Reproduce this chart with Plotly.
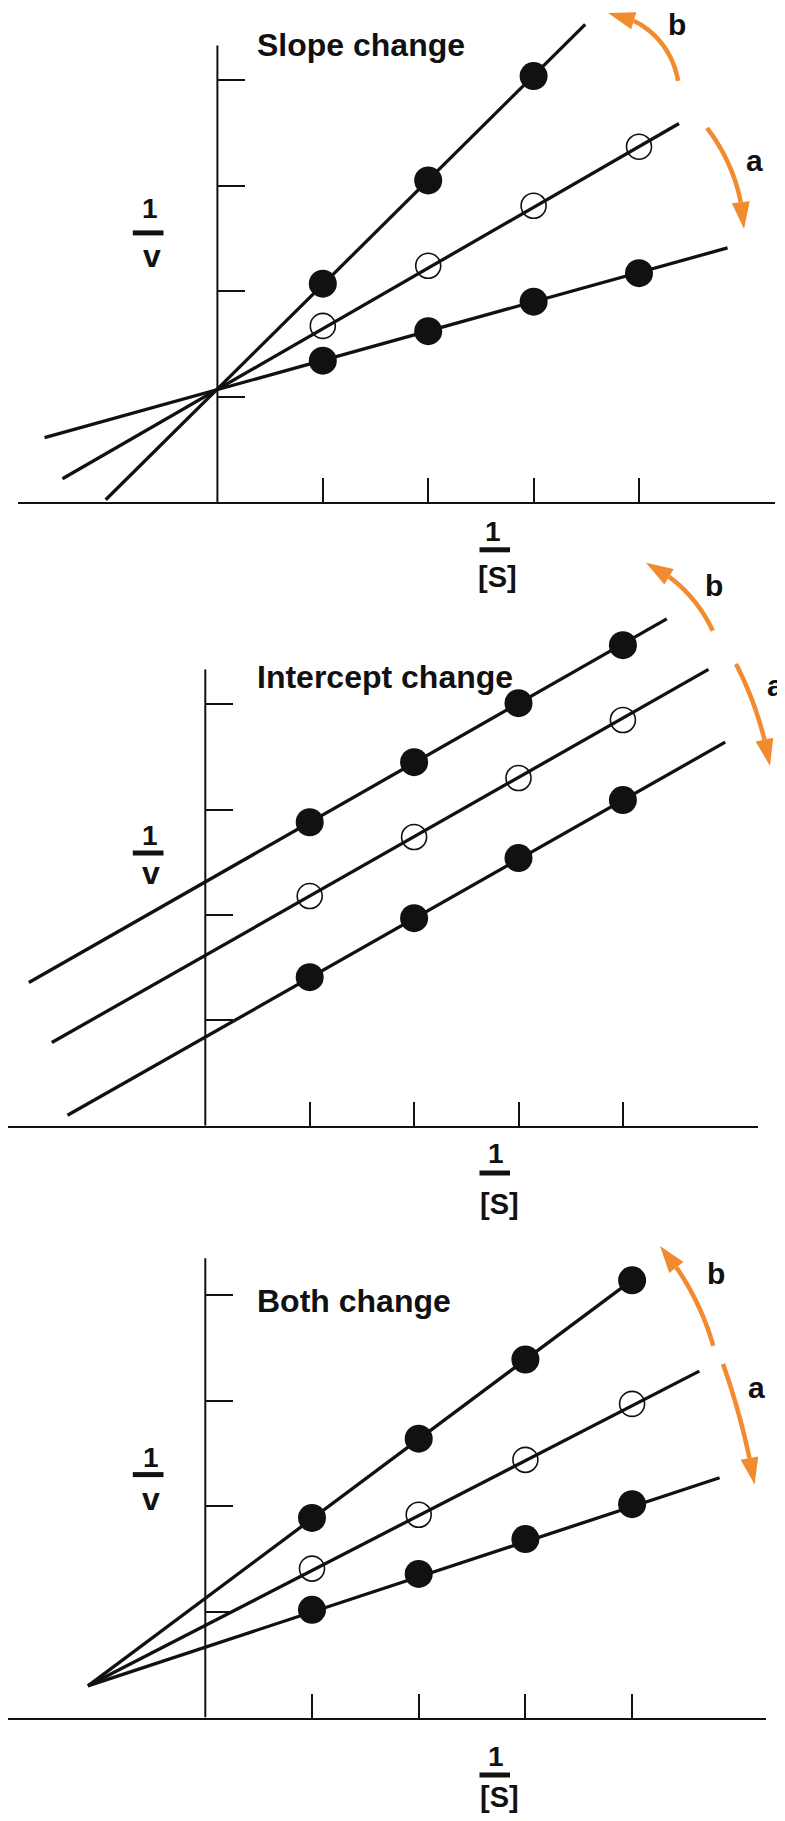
import numpy as np
import plotly.graph_objects as go

# the page body keeps its default 8px margin, so the figure is sized to fit the window
OX, OY = 8, 8
FW, FH = 777, 1805
INK = "#111111"
ORANGE = "#F28A2E"
FONT = "Liberation Sans, Arial, sans-serif"

x_ticks = [1, 2, 3, 4]
y_ticks = [1, 2, 3, 4]

# --- panel 1: slope change (lines meet on the 1/v axis) ---
slope_top_x = [1, 2, 3]
slope_top_y = [2.07, 3.05, 4.04]
slope_mid_x = [1, 2, 3, 4]
slope_mid_y = [1.67, 2.24, 2.81, 3.37]
slope_low_x = [1, 2, 3, 4]
slope_low_y = [1.34, 1.62, 1.90, 2.17]
slope_top_line_x = [-1.06, 3.49]
slope_top_line_y = [0.02, 4.53]
slope_mid_line_x = [-1.47, 4.38]
slope_mid_line_y = [0.22, 3.59]
slope_low_line_x = [-1.64, 4.84]
slope_low_line_y = [0.61, 2.41]

# --- panel 2: intercept change (parallel lines) ---
icpt_top_x = [1, 2, 3, 4]
icpt_top_y = [2.88, 3.45, 4.01, 4.56]
icpt_mid_x = [1, 2, 3, 4]
icpt_mid_y = [2.18, 2.74, 3.30, 3.85]
icpt_low_x = [1, 2, 3, 4]
icpt_low_y = [1.41, 1.97, 2.54, 3.09]
icpt_top_line_x = [-1.69, 4.42]
icpt_top_line_y = [1.36, 4.81]
icpt_mid_line_x = [-1.47, 4.82]
icpt_mid_line_y = [0.79, 4.33]
icpt_low_line_x = [-1.32, 4.98]
icpt_low_line_y = [0.10, 3.64]

# --- panel 3: both change (lines meet left of the 1/v axis) ---
both_top_x = [1, 2, 3, 4]
both_top_y = [1.89, 2.64, 3.39, 4.14]
both_mid_x = [1, 2, 3, 4]
both_mid_y = [1.41, 1.92, 2.44, 2.97]
both_low_x = [1, 2, 3, 4]
both_low_y = [1.02, 1.36, 1.69, 2.02]
both_top_line_x = [-1.10, 4.05]
both_top_line_y = [0.30, 4.18]
both_mid_line_x = [-1.10, 4.63]
both_mid_line_y = [0.30, 3.28]
both_low_line_x = [-1.10, 4.82]
both_low_line_y = [0.30, 2.27]

titles = ["Slope change", "Intercept change", "Both change"]


# screen pixel -> paper fraction
def px(x):
    return (x - OX) / FW


def py(y):
    return 1 - (y - OY) / FH


fig = go.Figure()

# pixel layout of each panel: x-axis span, origin, x-axis height, plot top, px per unit
panels = [
    dict(left=17.6, right=775, origin=217.4, base=501.9, top=8, ux=105.4, uy=105.4, axtop=4.33),
    dict(left=8, right=758, origin=205.3, base=1125.8, top=540, ux=104.4, uy=105.4, axtop=4.33),
    dict(left=8, right=766, origin=205.3, base=1717.5, top=1160, ux=106.7, uy=105.6, axtop=4.35),
]

series = [
    [(slope_top_line_x, slope_top_line_y, slope_top_x, slope_top_y, True),
     (slope_mid_line_x, slope_mid_line_y, slope_mid_x, slope_mid_y, False),
     (slope_low_line_x, slope_low_line_y, slope_low_x, slope_low_y, True)],
    [(icpt_top_line_x, icpt_top_line_y, icpt_top_x, icpt_top_y, True),
     (icpt_mid_line_x, icpt_mid_line_y, icpt_mid_x, icpt_mid_y, False),
     (icpt_low_line_x, icpt_low_line_y, icpt_low_x, icpt_low_y, True)],
    [(both_top_line_x, both_top_line_y, both_top_x, both_top_y, True),
     (both_mid_line_x, both_mid_line_y, both_mid_x, both_mid_y, False),
     (both_low_line_x, both_low_line_y, both_low_x, both_low_y, True)],
]

shapes = []
annotations = []

for i, (p, lines) in enumerate(zip(panels, series)):
    n = "" if i == 0 else str(i + 1)
    xa, ya = "x" + n, "y" + n
    for lx, ly, sx, sy, filled in lines:
        fig.add_trace(go.Scatter(x=lx, y=ly, mode="lines", line=dict(color=INK, width=3.3),
                                 xaxis=xa, yaxis=ya, showlegend=False, hoverinfo="skip"))
        if filled:
            mk = dict(symbol="circle", size=28, color=INK, line=dict(width=0))
        else:
            mk = dict(symbol="circle-open", size=25, color=INK, line=dict(width=1.6, color=INK))
        fig.add_trace(go.Scatter(x=sx, y=sy, mode="markers", marker=mk,
                                 xaxis=xa, yaxis=ya, showlegend=False, hoverinfo="skip"))

    xr = [(p["left"] - p["origin"]) / p["ux"], (p["right"] - p["origin"]) / p["ux"]]
    yr = [0, (p["base"] - p["top"]) / p["uy"]]
    fig.layout["xaxis" + n] = dict(
        domain=[px(p["left"]), px(p["right"])], range=xr, anchor=ya,
        showline=True, linecolor=INK, linewidth=2, ticks="inside", ticklen=24,
        tickwidth=2, tickcolor=INK, tickvals=x_ticks, showticklabels=False,
        showgrid=False, zeroline=False, fixedrange=True)
    fig.layout["yaxis" + n] = dict(
        domain=[py(p["base"]), py(p["top"])], range=yr, anchor="free",
        position=px(p["origin"]), showline=False, ticks="inside", ticklen=27,
        tickwidth=2, tickcolor=INK, tickvals=y_ticks, showticklabels=False,
        showgrid=False, zeroline=False, fixedrange=True)
    # vertical 1/v axis through x = 0
    shapes.append(dict(type="line", xref=xa, yref=ya, x0=0, x1=0, y0=0, y1=p["axtop"],
                       line=dict(color=INK, width=2)))


def label(text, x, y, size, xanchor="center"):
    annotations.append(dict(text="<b>%s</b>" % text, x=px(x), y=py(y), xref="paper", yref="paper",
                            xanchor=xanchor, yanchor="middle", showarrow=False,
                            font=dict(family=FONT, size=size, color=INK)))


# titles
title_pos = [(255, 45), (255, 677), (255, 1300.5)]
for t, (tx, ty) in zip(titles, title_pos):
    label(t, tx, ty, 32, xanchor="left")

# axis labels as stacked fractions
v_labels = [((150, 208.3), 232.9, (151.7, 256.2)),
            ((150, 835.4), 853.0, (151, 873.0)),
            ((151, 1457.5), 1474.6, (151, 1498.5))]
s_labels = [((492.5, 531.7), 549.8, (497, 577.5)),
            ((495.6, 1153.0), 1173.0, (499.7, 1203.5)),
            ((495.7, 1756.0), 1775.0, (500, 1797.3))]


def frac(one, bar_y, bar_x, den, den_xy, den_size):
    label("1", one[0], one[1], 28)
    label(den, den_xy[0], den_xy[1], den_size)
    shapes.append(dict(type="line", xref="paper", yref="paper", x0=px(bar_x[0]), x1=px(bar_x[1]),
                       y0=py(bar_y), y1=py(bar_y), line=dict(color=INK, width=5)))


for one, by, den in v_labels:
    frac(one, by, (132.8, 163.5), "v", den, 32)
for one, by, den in s_labels:
    frac(one, by, (479.5, 510), "[S]", den, 29)


# orange curved arrows, each a circular arc through tail, mid and tip (pixels)
def arc_arrow(tail, mid, tip, head_len=27, head_w=18, width=4.5):
    (x1, y1), (x2, y2), (x3, y3) = tail, mid, tip
    d = 2 * (x1 * (y2 - y3) + x2 * (y3 - y1) + x3 * (y1 - y2))
    ux = ((x1**2 + y1**2) * (y2 - y3) + (x2**2 + y2**2) * (y3 - y1) + (x3**2 + y3**2) * (y1 - y2)) / d
    uy = ((x1**2 + y1**2) * (x3 - x2) + (x2**2 + y2**2) * (x1 - x3) + (x3**2 + y3**2) * (x2 - x1)) / d
    r = np.hypot(x1 - ux, y1 - uy)
    a1 = np.arctan2(y1 - uy, x1 - ux)
    a2 = np.arctan2(y2 - uy, x2 - ux)
    a3 = np.arctan2(y3 - uy, x3 - ux)
    # pick the sweep direction that passes through the mid point
    s2 = (a2 - a1) % (2 * np.pi)
    s3 = (a3 - a1) % (2 * np.pi)
    sweep = s3 if s2 < s3 else s3 - 2 * np.pi
    stop = sweep - np.sign(sweep) * head_len / r
    angs = a1 + np.linspace(0, stop, 40)
    xs = ux + r * np.cos(angs)
    ys = uy + r * np.sin(angs)
    path = "M " + " L ".join("%.5f,%.5f" % (px(a), py(b)) for a, b in zip(xs, ys))
    shapes.append(dict(type="path", xref="paper", yref="paper", path=path,
                       line=dict(color=ORANGE, width=width)))
    bx, by = xs[-1], ys[-1]
    dx, dy = x3 - bx, y3 - by
    L = np.hypot(dx, dy)
    nx, ny = -dy / L, dx / L
    c1 = (bx + nx * head_w / 2, by + ny * head_w / 2)
    c2 = (bx - nx * head_w / 2, by - ny * head_w / 2)
    head = "M %.5f,%.5f L %.5f,%.5f L %.5f,%.5f Z" % (px(x3), py(y3), px(c1[0]), py(c1[1]),
                                                      px(c2[0]), py(c2[1]))
    shapes.append(dict(type="path", xref="paper", yref="paper", path=head,
                       fillcolor=ORANGE, line=dict(width=0)))


arrows = [
    ((678, 81), (657, 38), (608, 13)), ((707, 128), (729, 165), (744, 229)),
    ((712.7, 630.7), (690, 596), (646, 562.7)), ((736, 664), (752, 700), (770, 766)),
    ((713.3, 1346), (697, 1303), (660, 1246)), ((723, 1364), (737, 1408), (754.6, 1484.6)),
]
for tail, mid, tip in arrows:
    arc_arrow(tail, mid, tip)

letters = [("b", 676.7, 24), ("a", 754, 160.4), ("b", 714, 585), ("a", 775, 685.4),
           ("b", 716, 1273), ("a", 756.5, 1387.4)]
for t, lx, ly in letters:
    label(t, lx, ly, 30)

fig.update_layout(
    width=FW, height=FH,
    margin=dict(l=0, r=0, t=0, b=0),
    paper_bgcolor="white", plot_bgcolor="white",
    shapes=shapes, annotations=annotations,
    showlegend=False,
)

fig.write_html("out.html")
